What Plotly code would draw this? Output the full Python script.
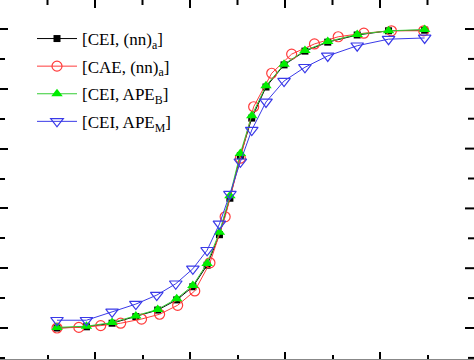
import plotly.graph_objects as go

# Data (arbitrary units; no tick labels on the original)
x_cei_nn = [0.60, 0.91, 1.18, 1.43, 1.66, 1.86, 2.03, 2.18, 2.31, 2.42, 2.53, 2.65, 2.80, 2.99, 3.21, 3.45, 3.76, 4.09, 4.47]
y_cei_nn = [0.00, 0.02, 0.08, 0.19, 0.30, 0.47, 0.69, 1.05, 1.56, 2.17, 2.88, 3.51, 4.03, 4.40, 4.63, 4.78, 4.90, 4.97, 4.98]

x_cae_nn = [0.60, 0.83, 1.06, 1.27, 1.49, 1.68, 1.87, 2.05, 2.21, 2.37, 2.53, 2.67, 2.86, 3.07, 3.31, 3.56, 3.83, 4.12, 4.46]
y_cae_nn = [0.00, 0.01, 0.04, 0.08, 0.15, 0.23, 0.38, 0.62, 1.09, 1.86, 2.84, 3.70, 4.26, 4.58, 4.75, 4.87, 4.93, 4.97, 4.97]

x_cei_apeb = [0.60, 0.91, 1.18, 1.43, 1.66, 1.86, 2.03, 2.18, 2.31, 2.42, 2.53, 2.65, 2.80, 2.99, 3.21, 3.45, 3.76, 4.09, 4.47]
y_cei_apeb = [0.01, 0.03, 0.09, 0.20, 0.31, 0.49, 0.71, 1.08, 1.60, 2.21, 2.92, 3.55, 4.05, 4.41, 4.64, 4.79, 4.91, 4.97, 4.99]

x_cei_apem = [0.60, 0.91, 1.18, 1.43, 1.65, 1.85, 2.03, 2.18, 2.31, 2.42, 2.53, 2.65, 2.80, 2.99, 3.21, 3.45, 3.76, 4.09, 4.47]
y_cei_apem = [0.13, 0.13, 0.27, 0.40, 0.55, 0.74, 0.99, 1.30, 1.74, 2.24, 2.78, 3.31, 3.78, 4.13, 4.36, 4.55, 4.72, 4.83, 4.85]

names = ["[CEI, (nn)<sub>a</sub>]", "[CAE, (nn)<sub>a</sub>]", "[CEI, APE<sub>B</sub>]", "[CEI, APE<sub>M</sub>]"]

# tick values (no labels on the original)
x_major = [1, 2, 3, 4]
x_minor = [0.5, 1.5, 2.5, 3.5, 4.5]
y_major = [0, 1, 2, 3, 4, 5]
y_minor = [-0.5, 0.5, 1.5, 2.5, 3.5, 4.5]

W, H = 474, 360
PH = 359  # plot-area height in px
XR = [0, 474 / 95]
YR = [-31 / 59.8, 328 / 59.8]
fig = go.Figure()
fig.add_trace(go.Scatter(x=x_cei_nn, y=y_cei_nn, mode="lines+markers", name=names[0], legendgroup="a",
                         line=dict(color="black", width=1),
                         marker=dict(symbol="square", size=7, color="black")))
fig.add_trace(go.Scatter(x=x_cae_nn, y=y_cae_nn, mode="lines+markers", name=names[1], legendgroup="b",
                         line=dict(color="#ff3b3b", width=1),
                         marker=dict(symbol="circle-open", size=10, color="#ff3b3b", line=dict(width=1.2))))
fig.add_trace(go.Scatter(x=x_cei_apeb, y=y_cei_apeb, mode="lines+markers", name=names[2], legendgroup="c",
                         line=dict(color="#33cc33", width=1),
                         marker=dict(symbol="triangle-up", size=10, color="#00ee00")))
fig.add_trace(go.Scatter(x=x_cei_apem, y=y_cei_apem, mode="lines+markers", name=names[3], legendgroup="d",
                         line=dict(color="#3a3ae8", width=1),
                         marker=dict(symbol="triangle-down-open", size=11, color="#3a3ae8", line=dict(width=1.2))))

tick_common = dict(showgrid=False, zeroline=False, showticklabels=False,
                   tick0=0, dtick=1, tickwidth=1.5, tickcolor="black")

fig.update_layout(
    width=W, height=H,
    margin=dict(l=0, r=0, t=0, b=1),
    plot_bgcolor="white", paper_bgcolor="white",
    showlegend=True,
    legend=dict(x=32 / W, y=1 - 21 / PH, xanchor="left", yanchor="top",
                font=dict(family="Liberation Serif", size=17, color="black"),
                bgcolor="rgba(0,0,0,0)", itemwidth=40, tracegroupgap=2.5),
    font=dict(family="Liberation Serif"),
    xaxis=dict(range=XR, showline=True, linecolor="#888888", linewidth=2, ticks="inside", ticklen=7,
               minor=dict(ticks="inside", dtick=0.5, tick0=0, ticklen=4, tickwidth=1.5, tickcolor="black"),
               **tick_common),
    yaxis=dict(range=YR, showline=False, ticks="inside", ticklen=8,
               minor=dict(ticks="inside", dtick=0.5, tick0=0, ticklen=5, tickwidth=1.5, tickcolor="black"),
               **tick_common),
)

# mirrored ticks along the top and right edges, placed at the axis tick values
tick_line = dict(color="black", width=2)
for v in x_major:
    fig.add_shape(type="line", xref="x", yref="paper", x0=v, x1=v, y0=1.02, y1=1 - 8 / PH, line=tick_line, layer="above")
for v in x_minor:
    fig.add_shape(type="line", xref="x", yref="paper", x0=v, x1=v, y0=1.02, y1=1 - 5 / PH, line=tick_line, layer="above")
for v in y_major:
    fig.add_shape(type="line", xref="paper", yref="y", x0=1.02, x1=1 - 9 / W, y0=v, y1=v, line=tick_line, layer="above")
for v in y_minor:
    fig.add_shape(type="line", xref="paper", yref="y", x0=1.02, x1=1 - 6 / W, y0=v, y1=v, line=tick_line, layer="above")

fig.write_html("out.html", config={"displayModeBar": False},
               post_script="document.body.style.margin='0';document.body.style.overflow='hidden';")
